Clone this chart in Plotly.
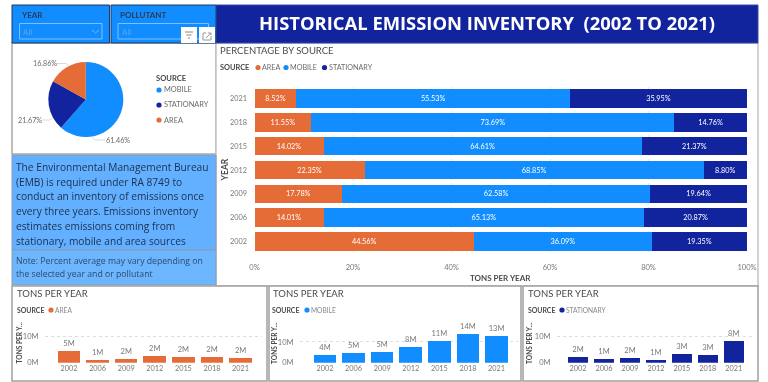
import plotly.graph_objects as go

W, H = 768, 382
years = ["2002", "2006", "2009", "2012", "2015", "2018", "2021"]
pct_area = [44.56, 14.01, 17.78, 22.35, 14.02, 11.55, 8.52]
pct_mobile = [36.09, 65.13, 62.58, 68.85, 64.61, 73.69, 55.53]
pct_stationary = [19.35, 20.87, 19.64, 8.80, 21.37, 14.76, 35.95]
pct_ticks = [0, 20, 40, 60, 80, 100]
pie_labels = ["MOBILE", "STATIONARY", "AREA"]
pie_values = [61.46, 21.67, 16.86]
tons_area = [4.6e6, 0.9e6, 1.5e6, 2.5e6, 2.3e6, 2.1e6, 1.8e6]
tons_mobile = [3.7e6, 4.6e6, 5.3e6, 7.6e6, 10.6e6, 14.0e6, 12.7e6]
tons_stationary = [2.05e6, 1.4e6, 1.7e6, 0.9e6, 3.4e6, 2.8e6, 8.3e6]

ORANGE, BLUE, NAVY = "#E66C37", "#118DFF", "#12239E"
GREY, DARK = "#6b6b6b", "#4a4a4a"
TICK = "#777777"
DIN = "Lato"
SEGOE = "Open Sans"

px = lambda x: x / W
py = lambda y: 1 - y / H

shapes, annos = [], []


def rect(x0, y0, x1, y1, fill, line=None, lw=1, radius=False):
    shapes.append(dict(type="rect", xref="paper", yref="paper", x0=px(x0), x1=px(x1), y0=py(y0), y1=py(y1),
                       fillcolor=fill, line=dict(color=line or "rgba(0,0,0,0)", width=lw if line else 0), layer="below"))


def seg(x0, y0, x1, y1, color, lw=1, layer="above"):
    shapes.append(dict(type="line", xref="paper", yref="paper", x0=px(x0), x1=px(x1), y0=py(y0), y1=py(y1),
                       line=dict(color=color, width=lw), layer=layer))


def dot(x, y, color, r=2.6):
    shapes.append(dict(type="circle", xref="paper", yref="paper", x0=px(x - r), x1=px(x + r), y0=py(y + r), y1=py(y - r),
                       fillcolor=color, line=dict(width=0), layer="above"))


def text(x, y, s, size=9, color=GREY, bold=False, family=DIN, anchor="left", angle=0):
    annos.append(dict(xref="paper", yref="paper", x=px(x), y=py(y), text=f"<b>{s}</b>" if bold else s, showarrow=False,
                      xanchor=anchor, yanchor="middle", align="left", textangle=angle,
                      font=dict(size=size, color=color, family=family), borderpad=0, borderwidth=0))


# panels
rect(12, 43, 216, 154, "white", "#a8a8a8", 1.5)
rect(216, 43, 758, 286, "white", "#c4c4c4", 1.5)
rect(12, 155, 216, 250, "#62B0FF", "#8a9bb0", 1)
rect(12, 250, 216, 285, "#6BB6FF", "#8a9bb0", 1)
rect(12, 286, 267, 381, "white", "#a0a0a0", 1.5)
rect(269, 286, 521, 381, "white", "#a0a0a0", 1.5)
rect(523, 286, 758, 381, "white", "#a0a0a0", 1.5)
rect(216, 5, 758, 43, NAVY, "#3a4aa8", 1)
rect(12, 5, 109.5, 43, BLUE, "#1f3a66", 1)
rect(111, 5, 216, 43, BLUE, "#1f3a66", 1)
rect(19.5, 23.5, 102, 39, "rgba(0,0,0,0)", "#7fbfff", 1)
rect(118, 23.5, 208.5, 39, "rgba(0,0,0,0)", "#7fbfff", 1)

# slicers
text(21, 15, "YEAR", 8, "#2b3a55", True)
text(119.5, 15, "POLLUTANT", 8, "#2b3a55", True)
text(23, 32, "All", 8, "#5aa6ee")
text(121.5, 32, "All", 8, "#5aa6ee")
seg(92, 30, 95.5, 33, "#6fb6fa", 1)
seg(95.5, 33, 99, 30, "#6fb6fa", 1)

# visual header icons
shapes.append(dict(type="rect", xref="paper", yref="paper", x0=px(181), x1=px(197), y0=py(43), y1=py(27),
                   fillcolor="white", line=dict(width=0), layer="above"))
shapes.append(dict(type="rect", xref="paper", yref="paper", x0=px(199), x1=px(215), y0=py(43), y1=py(27),
                   fillcolor="white", line=dict(width=0), layer="above"))
seg(185, 32, 193, 32, "#888888")
seg(186.5, 35, 191.5, 35, "#888888")
seg(188, 38, 190, 38, "#888888")
seg(203, 33, 203, 40, "#999999")
seg(203, 40, 211, 40, "#999999")
seg(211, 40, 211, 36, "#999999")
seg(203, 33, 206, 33, "#999999")
seg(206, 38, 211, 33, "#999999")
seg(208, 33, 211, 33, "#999999")
seg(211, 33, 211, 35, "#999999")

# title
text(487, 23, "HISTORICAL EMISSION INVENTORY&nbsp;&nbsp;(2002 TO 2021)", 18.4, "white", True, SEGOE, "center")

# pie legend and labels
text(155.5, 78, "SOURCE", 7.6, DARK, True)
for lab, yy, c in zip(pie_labels, [90, 105, 120], [BLUE, NAVY, ORANGE]):
    dot(159, yy, c)
    text(163.5, yy, lab, 7.4, GREY)
for v, (x, y) in zip(pie_values, [(106, 140), (18, 120), (33, 63.5)]):
    text(x, y, f"{v:.2f}%", 7.2, GREY)
seg(66, 63.5, 56, 63.5, "#cccccc", 0.7)
seg(66, 63.5, 69, 66, "#cccccc", 0.7)
seg(41, 120, 50, 120, "#cccccc", 0.7)
seg(50, 120, 53, 117.5, "#cccccc", 0.7)
seg(95, 140, 105, 140, "#cccccc", 0.7)
seg(95, 140, 92, 136.5, "#cccccc", 0.7)

# side text
for i, s in enumerate(["The Environmental Management Bureau", "(EMB) is required under RA 8749 to",
                       "conduct an inventory of emissions once", "every three years. Emissions inventory",
                       "estimates emissions coming from", "stationary, mobile and area sources"]):
    text(16, 167 + i * 14.7, s, 10.2, "#1c2f4d", False, SEGOE)
text(16, 261, "Note: Percent average may vary depending on", 8.7, "#2e4a6e", False, SEGOE)
text(16, 273.5, "the selected year and or pollutant", 8.7, "#2e4a6e", False, SEGOE)

# main chart text
text(220, 50.5, "PERCENTAGE BY SOURCE", 9.5, DARK)
text(220, 67.5, "SOURCE", 7.4, DARK, True)
for x, lab, c in [(258, "AREA", ORANGE), (286, "MOBILE", BLUE), (324.5, "STATIONARY", NAVY)]:
    dot(x, 67.5, c)
    text(x + 4, 67.5, lab, 7.2, GREY)
text(224.5, 170, "YEAR", 8.5, DARK, True, anchor="center", angle=-90)
text(500.5, 278, "TONS PER YEAR", 8, DARK, True, anchor="center")

# small multiple text
for tx, ax, dx, lab, c in [(17, 18.5, 51, "AREA", ORANGE), (272.5, 274, 307, "MOBILE", BLUE),
                           (528, 529, 562, "STATIONARY", NAVY)]:
    text(tx, 293, "TONS PER YEAR", 9.5, DARK)
    text(tx - 0.5, 310, "SOURCE", 6.9, DARK, True)
    dot(dx, 310, c)
    text(dx + 4, 310, lab, 6.6, "#888888")
    text(ax, 343, "TONS PER Y...", 6.6, DARK, True, anchor="center", angle=-90)

fig = go.Figure()

fig.add_trace(go.Pie(labels=pie_labels, values=pie_values, sort=False, direction="clockwise", rotation=0,
                     marker=dict(colors=[BLUE, NAVY, ORANGE], line=dict(width=0)), textinfo="none", showlegend=False,
                     domain=dict(x=[px(48.3), px(123.3)], y=[py(137), py(62)]), hoverinfo="label+percent"))

for name, vals, c in [("AREA", pct_area, ORANGE), ("MOBILE", pct_mobile, BLUE), ("STATIONARY", pct_stationary, NAVY)]:
    fig.add_trace(go.Bar(name=name, y=years, x=vals, orientation="h", marker=dict(color=c, line=dict(width=0)),
                         texttemplate="%{x:.2f}%", textposition="inside", insidetextanchor="middle", textangle=0,
                         insidetextfont=dict(size=7.3, color="white", family=DIN), showlegend=False,
                         xaxis="x", yaxis="y"))

small = [("x2", "y2", tons_area, ORANGE, (45, 262), (-0.84, 6.75), 12e6, 331.5),
         ("x3", "y3", tons_mobile, BLUE, (300, 518), (-0.874, 6.75), 15e6, 331.6),
         ("x4", "y4", tons_stationary, NAVY, (557, 753), (-0.81, 6.74), 12e6, 331.5)]
for xa, ya, vals, c, *_ in small:
    fig.add_trace(go.Bar(x=years, y=vals, xaxis=xa, yaxis=ya, marker=dict(color=c, line=dict(width=0)), showlegend=False,
                         text=[f"{v / 1e6:.0f}M" for v in vals], textposition="outside", cliponaxis=False,
                         textfont=dict(size=7.5, color=TICK, family=DIN), width=0.79))

layout = dict(
    width=W, height=H, autosize=False, margin=dict(l=0, r=0, t=0, b=0, pad=0), paper_bgcolor="white", plot_bgcolor="rgba(0,0,0,0)",
    barmode="stack", bargap=0.22, shapes=shapes, annotations=annos, showlegend=False, font=dict(family=DIN),
    xaxis=dict(domain=[px(254.5), px(747)], range=[0, 100], tickmode="array", tickvals=pct_ticks,
               ticktext=[f"{t}%" for t in pct_ticks], automargin=False,
               showgrid=True, gridcolor="#e6e6e6", griddash="dot", gridwidth=1, zeroline=False, showline=False,
               tickfont=dict(size=7.5, color=TICK, family=DIN), anchor="y", ticklen=7, ticks="outside",
               tickcolor="rgba(0,0,0,0)"),
    yaxis=dict(domain=[py(253.4), py(86.6)], type="category", categoryorder="array", categoryarray=years, showgrid=False,
               automargin=False,
               tickfont=dict(size=7.3, color=TICK, family=DIN), ticks="outside", ticklen=5, tickcolor="rgba(0,0,0,0)",
               zeroline=False, showline=False, anchor="x"),
)
for i, (_, _, _, _, dom, xr, ymax, top) in enumerate(small, start=2):
    layout[f"xaxis{i}"] = dict(domain=[px(dom[0]), px(dom[1])], type="category", anchor=f"y{i}", showgrid=False,
                               automargin=False, range=list(xr), categoryorder="array", categoryarray=years,
                               zeroline=False, showline=False, ticks="", tickfont=dict(size=7.3, color=TICK, family=DIN))
    layout[f"yaxis{i}"] = dict(domain=[py(362.7), py(top)], range=[0, ymax], anchor=f"x{i}", tickvals=[0, 10e6],
                               automargin=False,
                               ticktext=["0M", "10M"], showgrid=True, gridcolor="#dddddd", griddash="dot", zeroline=False,
                               showline=False, ticks="outside", ticklen=4, tickcolor="rgba(0,0,0,0)",
                               tickfont=dict(size=7.5, color=TICK, family=DIN))
fig.update_layout(**layout)

fig.write_html("out.html", config=dict(displayModeBar=False, responsive=False),
               post_script="document.body.style.margin='0';document.body.style.overflow='hidden';document.body.style.filter='blur(0.35px)';")
